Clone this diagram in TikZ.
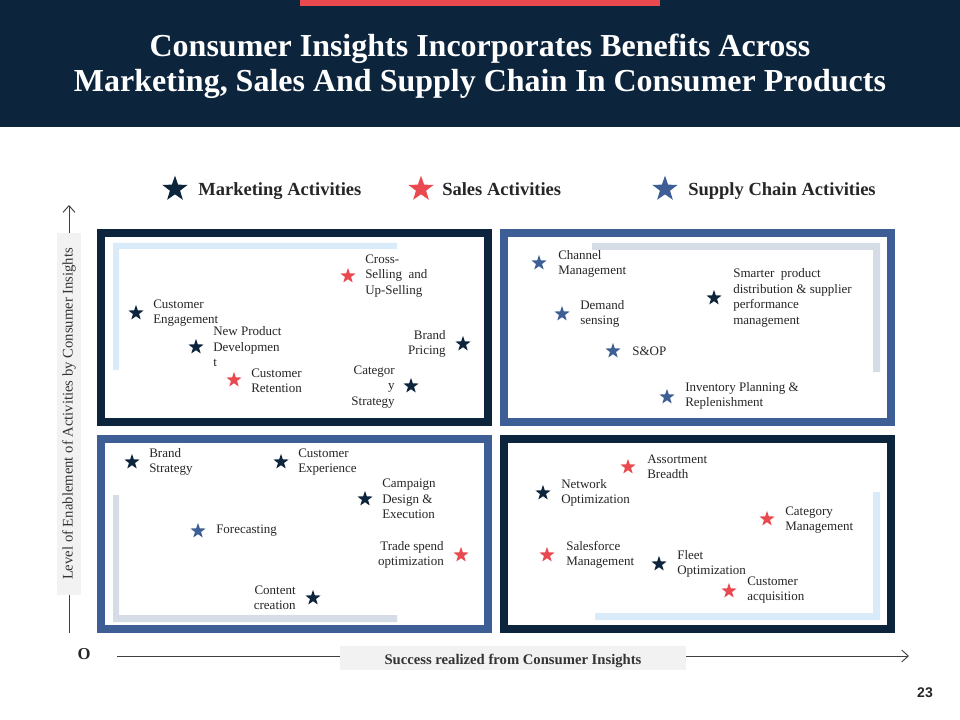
\documentclass[tikz,border=0pt]{standalone}
\usepackage{fontspec}
\setmainfont{Liberation Serif}
\newfontfamily\pgnumfont{Liberation Sans}
\usetikzlibrary{shapes.geometric,arrows.meta}
\definecolor{navy}{HTML}{0C243C}
\definecolor{redc}{HTML}{E84A4F}
\definecolor{bluec}{HTML}{3E5F95}
\definecolor{lblue}{HTML}{D9EAF8}
\definecolor{lgray}{HTML}{D6DCE6}
\definecolor{boxgray}{HTML}{F2F2F2}
\definecolor{axisc}{HTML}{404040}
\tikzset{
  starshape/.style={star,star points=5,star point ratio=2.5,minimum size=12pt,inner sep=0pt,draw=none},
  mk/.style={starshape,fill=navy},
  sl/.style={starshape,fill=redc},
  sc/.style={starshape,fill=bluec},
  bigstar/.style={star,star points=5,star point ratio=2.5,minimum size=20pt,inner sep=0pt,draw=none},
  lbl/.style={font=\fontsize{9.75}{11.6}\selectfont,inner sep=0pt,align=left,anchor=west,text=black!85},
  lblr/.style={font=\fontsize{9.75}{11.6}\selectfont,inner sep=0pt,align=right,anchor=east,text=black!85},
  legtext/.style={font=\fontsize{13.9}{15}\selectfont\bfseries,inner sep=0pt,anchor=base west,text=black!85},
  axisline/.style={draw=axisc,line width=0.7pt},
}
\begin{document}
\begin{tikzpicture}[x=0.75pt,y=-0.75pt]
\useasboundingbox (0,0) rectangle (960,720);
% header
\fill[navy] (0,0) rectangle (960,127);
\fill[redc] (300,0) rectangle (660,6);
\node[text=white,font=\fontsize{24}{26.5}\selectfont\bfseries,align=center] (title) at (480,66)
  {Consumer Insights Incorporates Benefits Across\\Marketing, Sales And Supply Chain In Consumer Products};
% legend
\node[bigstar,fill=navy] (l1) at (175,189) {};
\node[legtext] (lt1) at (198,196) {Marketing Activities};
\node[bigstar,fill=redc] (l2) at (421,189) {};
\node[legtext] (lt2) at (442,196) {Sales Activities};
\node[bigstar,fill=bluec] (l3) at (665,189) {};
\node[legtext] (lt3) at (688,196) {Supply Chain Activities};
% panels
\fill[navy] (97,229) rectangle (492,426);
\fill[white] (105,237) rectangle (484,418);
\fill[bluec] (500,229) rectangle (895,426);
\fill[white] (508,237) rectangle (887,418);
\fill[bluec] (97,435) rectangle (492,633);
\fill[white] (105,443) rectangle (484,625);
\fill[navy] (500,435) rectangle (895,633);
\fill[white] (508,443) rectangle (887,625);
% L shapes
\fill[lblue] (113,243) -- (397,243) -- (397,249) -- (119,249) -- (119,370) -- (113,370) -- cycle;
\fill[lgray] (592,243) -- (880,243) -- (880,372) -- (873,372) -- (873,250) -- (592,250) -- cycle;
\fill[lgray] (113,495) -- (119,495) -- (119,615) -- (397,615) -- (397,622) -- (113,622) -- cycle;
\fill[lblue] (880,492) -- (880,620) -- (595,620) -- (595,613) -- (873,613) -- (873,492) -- cycle;
% top-left panel
\node[sl] (a1) at (348,276) {};
\node[lbl] (a1t) at (365,276) {Cross-\\Selling~~and\\Up-Selling};
\node[mk] (a2) at (136,313) {};
\node[lbl] (a2t) at (153,313) {Customer\\Engagement};
\node[mk] (a3) at (196,347) {};
\node[lbl] (a3t) at (213,347) {New Product\\Developmen\\t};
\node[sl] (a4) at (234,380) {};
\node[lbl] (a4t) at (251,381) {Customer\\Retention};
\node[mk] (a5) at (463,344) {};
\node[lblr] (a5t) at (446,344) {Brand\\Pricing};
\node[mk] (a6) at (411,386) {};
\node[lblr] (a6t) at (395,387) {Categor\\y\\Strategy};
% top-right panel
\node[sc] (b1) at (539,263) {};
\node[lbl] (b1t) at (558,264) {Channel\\Management};
\node[mk] (b2) at (714,298) {};
\node[lbl] (b2t) at (733,298) {Smarter~ product\\distribution \& supplier\\performance\\management};
\node[sc] (b3) at (562,314) {};
\node[lbl] (b3t) at (580,314) {Demand\\sensing};
\node[sc] (b4) at (613,351) {};
\node[lbl] (b4t) at (632,351) {S\&OP};
\node[sc] (b5) at (667,397) {};
\node[lbl] (b5t) at (685,396) {Inventory Planning \&\\Replenishment};
% bottom-left panel
\node[mk] (c1) at (132,462) {};
\node[lbl] (c1t) at (149,462) {Brand\\Strategy};
\node[mk] (c2) at (281,462) {};
\node[lbl] (c2t) at (298,462) {Customer\\Experience};
\node[mk] (c3) at (365,499) {};
\node[lbl] (c3t) at (382,499) {Campaign\\Design \&\\Execution};
\node[sc] (c4) at (198,531) {};
\node[lbl] (c4t) at (216,531) {Forecasting};
\node[sl] (c5) at (461,555) {};
\node[lblr] (c5t) at (444,555) {Trade spend\\optimization};
\node[mk] (c6) at (313,598) {};
\node[lblr] (c6t) at (296,598) {Content\\creation};
% bottom-right panel
\node[sl] (d1) at (628,467) {};
\node[lbl] (d1t) at (647,467) {Assortment\\Breadth};
\node[mk] (d2) at (543,493) {};
\node[lbl] (d2t) at (561,493) {Network\\Optimization};
\node[sl] (d3) at (767,519) {};
\node[lbl] (d3t) at (785,520) {Category\\Management};
\node[sl] (d4) at (547,555) {};
\node[lbl] (d4t) at (566,555) {Salesforce\\Management};
\node[mk] (d5) at (659,564) {};
\node[lbl] (d5t) at (677,564) {Fleet\\Optimization};
\node[sl] (d6) at (729,591) {};
\node[lbl] (d6t) at (747,590) {Customer\\acquisition};
% axes
\coordinate (ytop) at (69,205);
\coordinate (ybot) at (69,633);
\coordinate (xl) at (117,656);
\coordinate (xr) at (909,656);
\draw[axisline,-{Straight Barb[length=5pt,width=9pt]}] (ybot) -- (ytop);
\draw[axisline,-{Straight Barb[length=5pt,width=9pt]}] (xl) -- (xr);
\node[fill=boxgray,rotate=90,minimum width=272pt,minimum height=18pt,inner sep=0pt,
  font=\fontsize{11}{12}\selectfont,text=black!80] (ylab) at (69,414) {Level of Enablement of Activities by Consumer Insights};
\node[fill=boxgray,minimum width=259.5pt,minimum height=18pt,inner sep=0pt] (xbox) at (513,658) {};
\node[font=\fontsize{11}{12}\selectfont\bfseries,text=black!80,inner sep=0pt,anchor=base] (xlab) at (513,664.5) {Success realized from Consumer Insights};
\node[font=\fontsize{12.5}{14}\selectfont\bfseries,text=black!85] (origin) at (84,654) {O};
\node[font=\pgnumfont\fontsize{10.5}{12}\selectfont\bfseries,text=black!85] (pg) at (925,693) {23};
\end{tikzpicture}
\end{document}
